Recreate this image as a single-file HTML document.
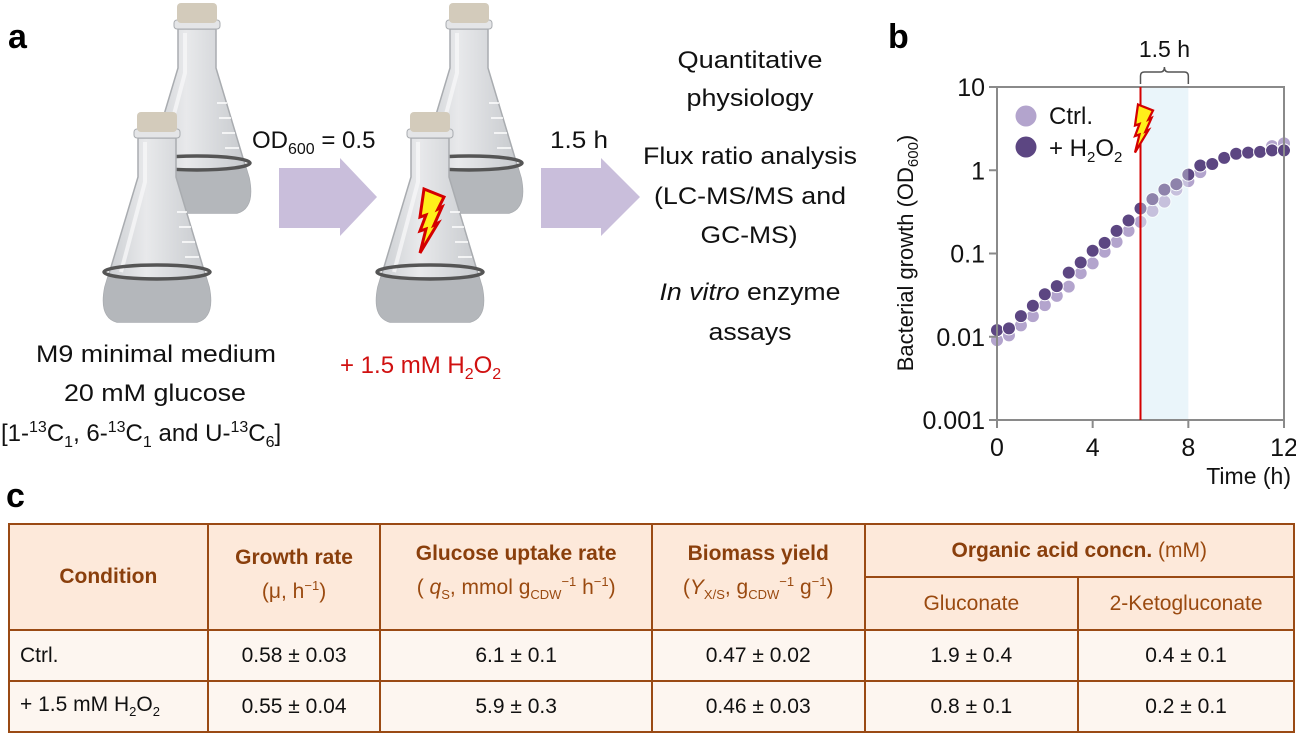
<!DOCTYPE html>
<html><head><meta charset="utf-8"><style>
body{margin:0;background:#fff;width:1296px;height:735px;overflow:hidden;font-family:"Liberation Sans Narrow","Liberation Sans",sans-serif}
svg{position:absolute;left:0;top:0}
.t{font-family:"Liberation Sans Narrow","Liberation Sans",sans-serif;fill:#111}
table{position:absolute;left:8px;top:523px;width:1287px;border-collapse:collapse;font-family:"Liberation Sans Narrow","Liberation Sans",sans-serif;font-size:21px;color:#111}
td{border:2px solid #9a4a14;text-align:center;padding:0;background:#fdf6f0}
.h td{background:#fde9da;color:#9a4a10}
.h b{color:#8a3f0c}
</style></head><body>
<svg width="1296" height="735">
<defs>
<linearGradient id="gl" x1="0" x2="1"><stop offset="0" stop-color="#c9ccd0"/><stop offset="0.4" stop-color="#e8e9eb"/><stop offset="1" stop-color="#c4c7cb"/></linearGradient>
<g id="flask">
<path d="M-19,26 L-19,65 L-52,175 Q-58,205 -40,210 L40,210 Q58,205 52,175 L19,65 L19,26 Z" fill="url(#gl)" stroke="#a9acb0" stroke-width="1.5"/>
<path d="M-49,165 L-52,175 Q-58,205 -40,210 L40,210 Q58,205 52,175 L49,165 Z" fill="#b4b7bb"/>
<path d="M-12,30 L-12,70 L-36,160" fill="none" stroke="#f6f6f7" stroke-width="4" opacity="0.8"/>
<ellipse cx="0" cy="160" rx="53" ry="7" fill="none" stroke="#555" stroke-width="3.5"/>
<rect x="-23" y="17" width="46" height="9" rx="3" fill="#e4e5e7" stroke="#a9acb0"/>
<rect x="-20" y="0" width="40" height="20" rx="4" fill="#d3cbbb"/>
<g stroke="#fff" stroke-width="1.5"><line x1="20" y1="100" x2="30" y2="100"/><line x1="22" y1="115" x2="34" y2="115"/><line x1="25" y1="130" x2="38" y2="130"/><line x1="28" y1="145" x2="42" y2="145"/></g>
</g>
<path id="bolt" d="M-6,-30 L14,-22 L8,-10 L12,-12 L4,6 L8,4 L-10,34 L-4,10 L-10,12 L-4,-4 L-10,-2 Z" fill="#ffef1a" stroke="#d40000" stroke-width="3" stroke-linejoin="miter"/>
</defs>
<text x="8" y="48" font-family="Liberation Sans" font-weight="bold" font-size="34">a</text>
<use href="#flask" transform="translate(197,3)"/>
<use href="#flask" transform="translate(157,112)"/>
<use href="#flask" transform="translate(469,3)"/>
<use href="#flask" transform="translate(430,112)"/>
<use href="#bolt" transform="translate(430,219)"/>
<path d="M279,168 H340 V158 L377,197 L340,236 V228 H279 Z" fill="#c9bedb"/>
<path d="M541,168 H601 V158 L640,197 L601,236 V228 H541 Z" fill="#c9bedb"/>
<g class="t" font-size="24">
<text x="252" y="148">OD<tspan font-size="16" dy="6">600</tspan><tspan dy="-6"> = 0.5</tspan></text>
<text x="550" y="148" textLength="58" lengthAdjust="spacingAndGlyphs">1.5 h</text>
<text x="36" y="362" textLength="240" lengthAdjust="spacingAndGlyphs">M9 minimal medium</text>
<text x="64" y="401" textLength="182" lengthAdjust="spacingAndGlyphs">20 mM glucose</text>
<text x="1" y="441">[1-<tspan font-size="16" dy="-9">13</tspan><tspan dy="9">C</tspan><tspan font-size="16" dy="6">1</tspan><tspan dy="-6">, 6-</tspan><tspan font-size="16" dy="-9">13</tspan><tspan dy="9">C</tspan><tspan font-size="16" dy="6">1</tspan><tspan dy="-6"> and U-</tspan><tspan font-size="16" dy="-9">13</tspan><tspan dy="9">C</tspan><tspan font-size="16" dy="6">6</tspan><tspan dy="-6">]</tspan></text>
<text x="340" y="373" fill="#d01010" style="fill:#d01010">+ 1.5 mM H<tspan font-size="16" dy="6">2</tspan><tspan dy="-6">O</tspan><tspan font-size="16" dy="6">2</tspan></text>
<g text-anchor="middle">
<text x="750" y="68" textLength="145" lengthAdjust="spacingAndGlyphs">Quantitative</text>
<text x="750" y="106" textLength="127" lengthAdjust="spacingAndGlyphs">physiology</text>
<text x="750" y="164" textLength="214" lengthAdjust="spacingAndGlyphs">Flux ratio analysis</text>
<text x="750" y="204" textLength="192" lengthAdjust="spacingAndGlyphs">(LC-MS/MS and</text>
<text x="749" y="243" textLength="97" lengthAdjust="spacingAndGlyphs">GC-MS)</text>
<text x="750" y="300" textLength="181" lengthAdjust="spacingAndGlyphs"><tspan font-style="italic">In vitro</tspan> enzyme</text>
<text x="750" y="340" textLength="83" lengthAdjust="spacingAndGlyphs">assays</text>
</g></g>
<text x="888" y="48" font-family="Liberation Sans" font-weight="bold" font-size="34">b</text>
<text x="6" y="507" font-family="Liberation Sans" font-weight="bold" font-size="34">c</text>
<g id="chart"></g>
</svg>
<table>
<colgroup><col style="width:199px"><col style="width:173px"><col style="width:272px"><col style="width:213px"><col style="width:214px"><col style="width:216px"></colgroup>
<tr class="h" style="height:53px"><td rowspan="2"><b>Condition</b></td><td rowspan="2"><b>Growth rate</b><br><span style="line-height:32px">(μ, h<sup style="font-size:13px">−1</sup>)</span></td><td rowspan="2"><b>Glucose uptake rate</b><br><span style="line-height:32px">( <i>q</i><sub style="font-size:13px">S</sub>, mmol g<sub style="font-size:13px">CDW</sub><sup style="font-size:13px">−1</sup> h<sup style="font-size:13px">−1</sup>)</span></td><td rowspan="2"><b>Biomass yield</b><br><span style="line-height:32px">(<i>Y</i><sub style="font-size:13px">X/S</sub>, g<sub style="font-size:13px">CDW</sub><sup style="font-size:13px">−1</sup> g<sup style="font-size:13px">−1</sup>)</span></td><td colspan="2"><b>Organic acid concn.</b> (mM)</td></tr>
<tr class="h" style="height:53px"><td>Gluconate</td><td>2-Ketogluconate</td></tr>
<tr style="height:51px"><td style="text-align:left;padding-left:10px">Ctrl.</td><td>0.58 ± 0.03</td><td>6.1 ± 0.1</td><td>0.47 ± 0.02</td><td>1.9 ± 0.4</td><td>0.4 ± 0.1</td></tr>
<tr style="height:51px"><td style="text-align:left;padding-left:10px">+ 1.5 mM H<sub style="font-size:13px">2</sub>O<sub style="font-size:13px">2</sub></td><td>0.55 ± 0.04</td><td>5.9 ± 0.3</td><td>0.46 ± 0.03</td><td>0.8 ± 0.1</td><td>0.2 ± 0.1</td></tr>
</table>
<script>
const times=[0,0.5,1,1.5,2,2.5,3,3.5,4,4.5,5,5.5,6,6.5,7,7.5,8,8.5,9,9.5,10,10.5,11,11.5,12];
const ctrlOD=[0.0091,0.0104,0.0137,0.0177,0.024,0.031,0.040,0.058,0.076,0.105,0.138,0.187,0.24,0.325,0.42,0.586,0.74,0.95,1.18,1.38,1.55,1.6,1.7,1.95,2.1];
const h2o2OD=[0.012,0.0126,0.0177,0.0236,0.0324,0.0405,0.059,0.078,0.108,0.134,0.187,0.249,0.347,0.45,0.586,0.68,0.887,1.14,1.19,1.41,1.58,1.63,1.66,1.73,1.73];
const xTicks=[0,4,8,12];
const yTicks=[10,1,0.1,0.01,0.001];
const yTickLabels=["10","1","0.1","0.01","0.001"];
const treatTime=6, sampleTime=8;
const NS="http://www.w3.org/2000/svg";
const X0=997,X1=1284,Y0=87,Y1=420;
const xs=t=>X0+(t-0)/(12-0)*(X1-X0);
const ys=v=>Y0+(1-Math.log10(v))/4*(Y1-Y0);
const g=document.getElementById('chart');
function mk(tag,a,p){const e=document.createElementNS(NS,tag);for(const k in a)e.setAttribute(k,a[k]);(p||g).appendChild(e);return e;}
let e;
e=mk('rect',{x:xs(treatTime),y:Y0,width:xs(sampleTime)-xs(treatTime),height:Y1-Y0,fill:'#eaf5fa'});


times.forEach((t,i)=>{e=mk('circle',{cx:xs(t),cy:ys(ctrlOD[i]),r:6.5,fill:'#b3a4cd',stroke:'#fff','stroke-width':1});

});
times.forEach((t,i)=>{e=mk('circle',{cx:xs(t),cy:ys(h2o2OD[i]),r:6.5,fill:'#5c4682',stroke:'#fff','stroke-width':1});

});
e=mk('rect',{x:xs(treatTime),y:Y0,width:xs(sampleTime)-xs(treatTime),height:Y1-Y0,fill:'#eaf5fa',opacity:0.35});


e=mk('rect',{x:X0,y:Y0,width:X1-X0,height:Y1-Y0,fill:'none',stroke:'#8a8a8a','stroke-width':2});


yTicks.forEach((v,i)=>{mk('line',{x1:X0-8,x2:X0,y1:ys(v),y2:ys(v),stroke:'#8a8a8a','stroke-width':2});
e=mk('text',{x:X0-12,y:ys(v)+9,'text-anchor':'end','font-size':25,class:'t'});e.textContent=yTickLabels[i];

});
xTicks.forEach(v=>{mk('line',{x1:xs(v),x2:xs(v),y1:Y1,y2:Y1+8,stroke:'#8a8a8a','stroke-width':2});
e=mk('text',{x:xs(v),y:Y1+36,'text-anchor':'middle','font-size':25,class:'t'});e.textContent=v;

});
e=mk('line',{x1:xs(treatTime),x2:xs(treatTime),y1:Y0,y2:Y1,stroke:'#d40000','stroke-width':2});


e=mk('use',{href:'#bolt',transform:`translate(${xs(treatTime)+2},127) scale(0.75)`});


const bx0=xs(treatTime),bx1=xs(sampleTime),bm=(bx0+bx1)/2;
e=mk('path',{d:`M${bx0},84 V76 Q${bx0},72 ${bx0+4},72 H${bm-4} Q${bm},72 ${bm},67 Q${bm},72 ${bm+4},72 H${bx1-4} Q${bx1},72 ${bx1},76 V84`,fill:'none',stroke:'#555','stroke-width':1.5});


e=mk('text',{x:bm,y:57,'text-anchor':'middle','font-size':23,class:'t'});e.textContent='1.5 h';


e=mk('circle',{cx:1026,cy:116,r:10.5,fill:'#b3a4cd'});


e=mk('circle',{cx:1026,cy:147,r:10.5,fill:'#5c4682'});


e=mk('text',{x:1049,y:124,'font-size':24,class:'t'});e.textContent='Ctrl.';


e=mk('text',{x:1049,y:156,'font-size':24,class:'t'});e.innerHTML='+ H<tspan font-size="15" dy="6">2</tspan><tspan dy="-6">O</tspan><tspan font-size="15" dy="6">2</tspan>';


e=mk('text',{x:1291,y:484,'text-anchor':'end','font-size':23,class:'t'});e.textContent='Time (h)';


e=mk('text',{x:0,y:0,'text-anchor':'middle','font-size':22,class:'t',transform:'translate(913,253) rotate(-90)'});e.innerHTML='Bacterial growth (OD<tspan font-size="15" dy="5">600</tspan><tspan dy="-5">)</tspan>';


</script>
</body></html>
